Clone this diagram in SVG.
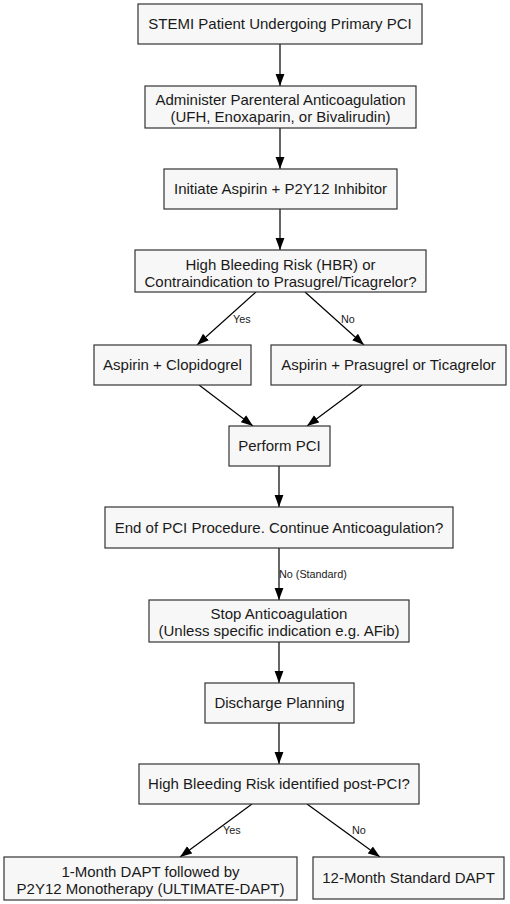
<svg xmlns="http://www.w3.org/2000/svg" width="510" height="904" viewBox="0 0 510 904">
<style>
.box{fill:#f7f7f7;stroke:#333;stroke-width:1.2}
.t{font-family:"Liberation Sans",Arial,Helvetica,sans-serif;font-size:15px;fill:#1a1a1a;text-anchor:middle}
.e{stroke:#000;stroke-width:1.2;fill:none;marker-end:url(#arr)}
.l{font-family:"Liberation Sans",Arial,Helvetica,sans-serif;font-size:10.8px;fill:#1a1a1a}
</style>
<defs>
<marker id="arr" viewBox="0 0 12 10" refX="12" refY="5" markerWidth="12" markerHeight="10" markerUnits="userSpaceOnUse" orient="auto">
<path d="M0,0.6 L12,5 L0,9.4 Z" fill="#000"/>
</marker>
</defs>
<rect width="510" height="904" fill="#fff"/>
<g id="connectors">
<line class="e" x1="280" y1="44" x2="280" y2="86"/>
<line class="e" x1="280" y1="128" x2="280" y2="169"/>
<line class="e" x1="280" y1="209" x2="280" y2="250"/>
<line class="e" x1="256" y1="292" x2="197" y2="345"/>
<text class="l" x="233" y="323">Yes</text>
<line class="e" x1="305" y1="292" x2="364" y2="345"/>
<text class="l" x="341" y="323">No</text>
<line class="e" x1="199" y1="385" x2="253" y2="426"/>
<line class="e" x1="362" y1="385" x2="307" y2="426"/>
<line class="e" x1="279" y1="466" x2="279" y2="507"/>
<line class="e" x1="279" y1="548" x2="279" y2="600"/>
<text class="l" x="279" y="578">No (Standard)</text>
<line class="e" x1="279" y1="642" x2="279" y2="683"/>
<line class="e" x1="279" y1="723" x2="279" y2="764"/>
<line class="e" x1="252" y1="804" x2="180" y2="857"/>
<text class="l" x="223" y="834">Yes</text>
<line class="e" x1="307" y1="804" x2="380" y2="857"/>
<text class="l" x="352" y="834">No</text>
</g>
<g id="n1"><rect class="box" x="138" y="4" width="284" height="40"/><text class="t" x="280" y="29">STEMI Patient Undergoing Primary PCI</text></g>
<g id="n2"><rect class="box" x="145" y="86" width="271" height="42"/><text class="t" x="280.5" y="104.5">Administer Parenteral Anticoagulation</text><text class="t" x="280.5" y="121.5">(UFH, Enoxaparin, or Bivalirudin)</text></g>
<g id="n3"><rect class="box" x="164" y="169" width="233" height="40"/><text class="t" x="280.5" y="194">Initiate Aspirin + P2Y12 Inhibitor</text></g>
<g id="n4"><rect class="box" x="135" y="250" width="291" height="42"/><text class="t" x="280.5" y="270">High Bleeding Risk (HBR) or</text><text class="t" x="280.5" y="287">Contraindication to Prasugrel/Ticagrelor?</text></g>
<g id="n5"><rect class="box" x="94" y="345" width="157" height="40"/><text class="t" x="172.5" y="370">Aspirin + Clopidogrel</text></g>
<g id="n6"><rect class="box" x="271" y="345" width="235" height="40"/><text class="t" x="388.5" y="370">Aspirin + Prasugrel or Ticagrelor</text></g>
<g id="n7"><rect class="box" x="229" y="426" width="101" height="40"/><text class="t" x="279.5" y="451">Perform PCI</text></g>
<g id="n8"><rect class="box" x="105" y="507" width="348" height="41"/><text class="t" x="279" y="532.5">End of PCI Procedure. Continue Anticoagulation?</text></g>
<g id="n9"><rect class="box" x="149" y="600" width="260" height="42"/><text class="t" x="279" y="619">Stop Anticoagulation</text><text class="t" x="279" y="636">(Unless specific indication e.g. AFib)</text></g>
<g id="n10"><rect class="box" x="205" y="683" width="149" height="40"/><text class="t" x="279.5" y="708">Discharge Planning</text></g>
<g id="n11"><rect class="box" x="139" y="764" width="280" height="40"/><text class="t" x="279" y="789">High Bleeding Risk identified post-PCI?</text></g>
<g id="n12"><rect class="box" x="4" y="857" width="293" height="43"/><text class="t" x="150.5" y="877">1-Month DAPT followed by</text><text class="t" x="150.5" y="894">P2Y12 Monotherapy (ULTIMATE-DAPT)</text></g>
<g id="n13"><rect class="box" x="313" y="857" width="191" height="42"/><text class="t" x="408.5" y="883">12-Month Standard DAPT</text></g>
</svg>
